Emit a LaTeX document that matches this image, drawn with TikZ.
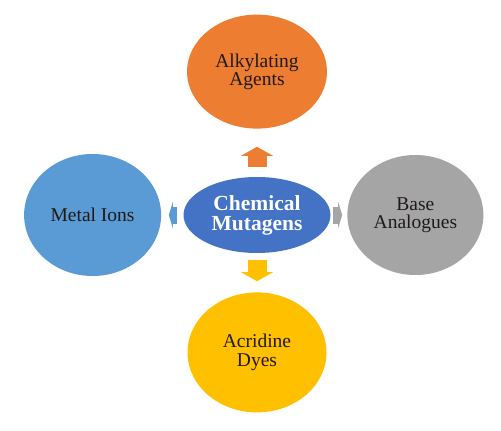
\documentclass[tikz,border=0pt]{standalone}
\usepackage{fontspec}
\setmainfont{Liberation Serif}
\usetikzlibrary{arrows.meta,positioning,shapes.geometric}
\definecolor{mutblue}{HTML}{4472C4}
\definecolor{alkorange}{HTML}{ED7D31}
\definecolor{ionblue}{HTML}{5B9BD5}
\definecolor{basegray}{HTML}{A5A5A5}
\definecolor{dyegold}{HTML}{FFC000}
\definecolor{txtdark}{HTML}{1F1A17}

\begin{document}
\begin{tikzpicture}[
  x=1pt,y=-1pt,
  every node/.style={align=center},
  blob/.style={ellipse,inner sep=0pt,text=txtdark,
               font=\fontsize{19.5}{18.5}\selectfont},
  hub/.style={ellipse,inner sep=0pt,fill=mutblue,text=white,
              minimum width=147pt,minimum height=76pt,
              font=\fontsize{21.5}{20}\selectfont\bfseries},
  vblock/.style={line width=19pt,-{Triangle[width=32pt,length=9pt,line width=0pt]}},
  hblock/.style={line width=17pt,-{Triangle[width=26pt,length=4pt,line width=0pt]}}
]
\useasboundingbox[fill=white] (0,0) rectangle (501,431);
% --- hub ---
\node[hub] (mut) at (257,215) {Chemical\\Mutagens};
% --- four classes round the hub ---
\node[blob,fill=alkorange,minimum width=140pt,minimum height=114pt,
      above=48pt of mut] (alk) {Alkylating\\Agents};
\node[blob,fill=dyegold,minimum width=139pt,minimum height=120pt,
      below=39pt of mut] (dyes) {Acridine\\Dyes};
\node[blob,fill=ionblue,minimum width=137pt,minimum height=122pt,
      left=22pt of mut] (metal) {Metal Ions};
\node[blob,fill=basegray,minimum width=136pt,minimum height=120pt,
      right=16.5pt of mut] (base) {Base\\Analogues};
% --- block arrows ---
\draw[vblock,alkorange,shorten <=10pt,shorten >=18pt] (mut) -- (alk);
\draw[vblock,dyegold,shorten <=7pt,shorten >=11pt] (mut) -- (dyes);
\draw[hblock,ionblue,shorten <=6.5pt,shorten >=7.5pt] (mut) -- (metal);
\draw[hblock,basegray,shorten <=2.5pt,shorten >=5pt] (mut) -- (base);
\end{tikzpicture}
\end{document}
